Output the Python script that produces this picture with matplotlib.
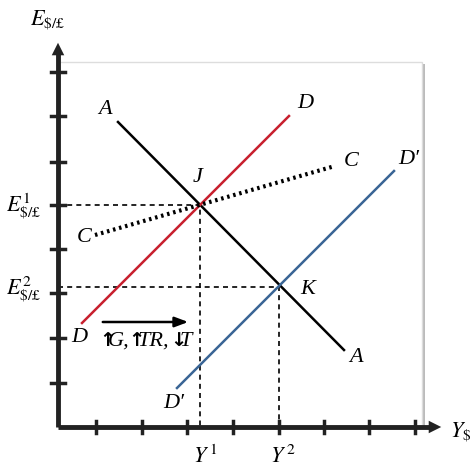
import matplotlib.pyplot as plt
from matplotlib.patches import Rectangle

# curve endpoints in picture units (x right, y down)
a_x, a_y = [118, 344], [122, 350]
d_x, d_y = [82, 289], [323, 116]
d2_x, d2_y = [177, 394], [388, 171]
c_x, c_y = [95, 335], [235, 166]
j_pt = (200, 205)
k_pt = (279, 287)
xticks = [96, 142, 187, 233, 279, 324, 369, 415]
yticks = [72, 116, 162, 205, 249, 293, 338, 383]

plt.rcParams['font.family'] = ['Liberation Serif', 'DejaVu Serif']
plt.rcParams['mathtext.fontset'] = 'stix'
fig = plt.figure(figsize=(4.74, 4.76), dpi=100)
ax = fig.add_axes([0, 0, 1, 1])
ax.set_xlim(0, 474)
ax.set_ylim(476, 0)
ax.axis('off')

# frame with shadow
ax.add_patch(Rectangle((60, 64), 365, 365, fc='#bbbbbb', ec='none', zorder=0))
ax.add_patch(Rectangle((58, 62), 364, 365, fc='white', ec='#dddddd', lw=1, zorder=1))

# axes with arrows
ax.plot([58, 58], [427, 52], color='#222222', lw=3.5, zorder=5, solid_capstyle='butt')
ax.plot([58, 432], [427, 427], color='#222222', lw=3.5, zorder=5, solid_capstyle='butt')
ax.annotate('', xy=(58, 40), xytext=(58, 56), zorder=6,
            arrowprops=dict(arrowstyle='-|>,head_width=0.45,head_length=0.9', color='#222222', lw=0))
ax.annotate('', xy=(444, 427), xytext=(428, 427), zorder=6,
            arrowprops=dict(arrowstyle='-|>,head_width=0.45,head_length=0.9', color='#222222', lw=0))
for t in xticks:
    ax.plot([t, t], [421, 433], color='#222222', lw=2.5, zorder=5)
for t in yticks:
    ax.plot([51, 65], [t, t], color='#222222', lw=2.5, zorder=5)

# dashed guides
ax.plot([58, j_pt[0], j_pt[0]], [j_pt[1], j_pt[1], 427], 'k--', lw=1.2, dashes=(3, 2.5), zorder=2)
ax.plot([58, k_pt[0], k_pt[0]], [k_pt[1], k_pt[1], 427], 'k--', lw=1.2, dashes=(3, 2.5), zorder=2)

# curves
ax.plot(a_x, a_y, color='black', lw=1.8, zorder=3)
ax.plot(d_x, d_y, color='#c8202f', lw=1.8, zorder=3)
ax.plot(d2_x, d2_y, color='#3a6595', lw=1.8, zorder=3)
ax.plot(c_x, c_y, color='black', lw=3, ls=(0, (0.6, 0.9)), zorder=4)

fs = 16
lab = dict(fontsize=fs, style='italic', ha='center', va='center', zorder=7)
ax.text(105, 110, 'A', **lab)
ax.text(356, 358, 'A', **lab)
ax.text(305, 104, 'D', **lab)
ax.text(79, 338, 'D', **lab)
ax.text(409, 160, "D′", **lab)
ax.text(174, 404, "D′", **lab)
ax.text(351, 162, 'C', **lab)
ax.text(84, 237, 'C', **lab)
ax.text(198, 177, 'J', **lab)
ax.text(308, 289, 'K', **lab)
ax.text(205, 457, '$Y^{\\,1}$', fontsize=fs, ha='center', va='center')
ax.text(283, 457, '$Y^{\\,2}$', fontsize=fs, ha='center', va='center')
ax.text(461, 432, '$Y_{\\$}$', fontsize=fs, ha='center', va='center')
ax.text(48, 20, '$E_{\\$/£}$', fontsize=fs, ha='center', va='center')
ax.text(24, 207, '$E^{1}_{\\$/£}$', fontsize=fs, ha='center', va='center')
ax.text(24, 289, '$E^{2}_{\\$/£}$', fontsize=fs, ha='center', va='center')

# policy arrow and label
ax.annotate('', xy=(191, 322), xytext=(100, 322), zorder=6,
            arrowprops=dict(arrowstyle='-|>,head_width=0.3,head_length=0.8', color='black', lw=1.8))
arr = dict(fontsize=14, fontweight='bold', ha='left', va='center', family='DejaVu Sans')
txt = dict(fontsize=fs, style='italic', ha='left', va='center')
ax.text(99, 340, '↑', **arr)
ax.text(108, 341, 'G,', **txt)
ax.text(128, 340, '↑', **arr)
ax.text(138, 341, 'TR,', **txt)
ax.text(170, 340, '↓', **arr)
ax.text(180, 341, 'T', **txt)

fig.savefig('out.png', dpi=100)
